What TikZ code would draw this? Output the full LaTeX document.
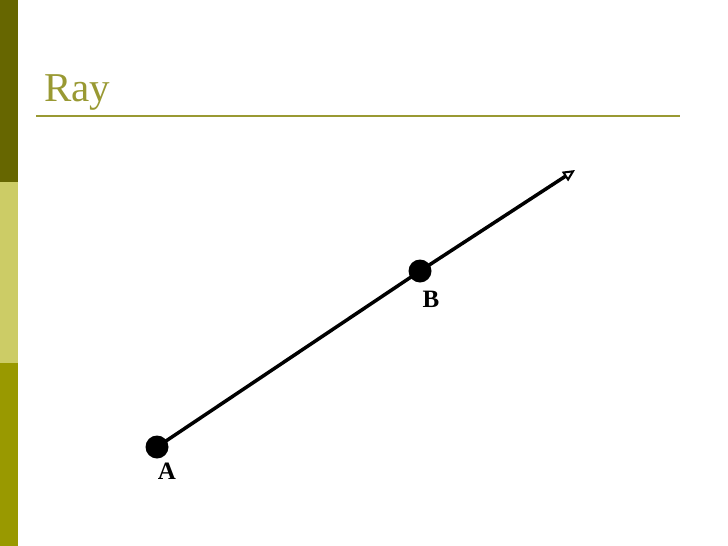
\documentclass[tikz,border=0pt]{standalone}
\usepackage{fontspec}
\setmainfont{Liberation Serif}
\usepackage{tikz}
\usetikzlibrary{arrows.meta}
\definecolor{bardark}{HTML}{666600}
\definecolor{barlight}{HTML}{CCCC66}
\definecolor{barmid}{HTML}{999900}
\definecolor{titleolive}{HTML}{999933}

\begin{document}
\begin{tikzpicture}[x=1pt, y=-1pt,
        dot/.style={circle, fill=black, inner sep=0pt, minimum size=23pt},
        lbl/.style={font=\fontsize{25}{25}\selectfont\bfseries}]
    \useasboundingbox (0, 0) rectangle (728, 546);
    \fill[bardark]  (0,   0) rectangle (18, 182);
    \fill[barlight] (0, 182) rectangle (18, 363);
    \fill[barmid]   (0, 363) rectangle (18, 546);

    \node[anchor=base west, text=titleolive, inner sep=0pt,
          font=\fontsize{41}{41}\selectfont] (title) at (44, 101) {Ray};
    \draw[titleolive, line width=2pt] (36, 116) -- (680, 116);

    \node[dot] (A) at (157, 447) {};
    \node[dot] (B) at (420, 271) {};
    \coordinate (end) at (575, 170);
    \draw[line width=3.5pt, -{Triangle[open, length=12pt, width=11pt, line width=2pt]}]
        (A.center) -- (B.center) -- (end);

    \node[lbl] at (167, 471) {A};
    \node[lbl] at (431, 299) {B};
\end{tikzpicture}
\end{document}
